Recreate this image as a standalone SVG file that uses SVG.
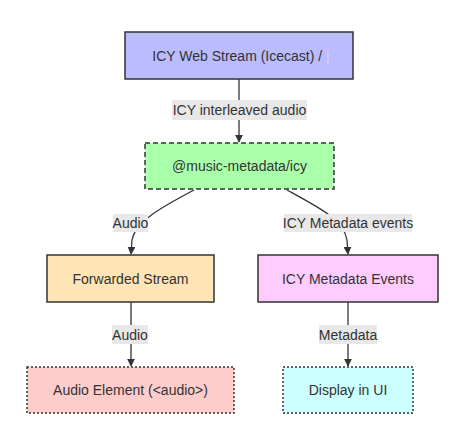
<svg xmlns="http://www.w3.org/2000/svg" width="474" height="441" viewBox="0 0 474 441">
<style>
.n{stroke:#333;stroke-width:1.5}
.t{font-family:"Liberation Sans",Arial,sans-serif;font-size:14px;fill:#333;text-anchor:middle;dominant-baseline:central}
.lb{fill:#e8e8e8}
.e{fill:none;stroke:#333;stroke-width:1.3}
</style>
<defs>
<marker id="ah" viewBox="0 0 10 10" refX="9" refY="5" markerWidth="8" markerHeight="8" markerUnits="userSpaceOnUse" orient="auto">
<path d="M0,0L10,5L0,10z" fill="#333"/>
</marker>
</defs>
<rect width="474" height="441" fill="#fff"/>
<g id="edges">
<path class="e" d="M239,79V142" marker-end="url(#ah)"/>
<path class="e" d="M194,190C160,208 135,222 132,240L131,254" marker-end="url(#ah)"/>
<path class="e" d="M287,190C320,208 344,220 347,240L348,254" marker-end="url(#ah)"/>
<path class="e" d="M131,302V366" marker-end="url(#ah)"/>
<path class="e" d="M348,302V366" marker-end="url(#ah)"/>
<rect class="lb" x="172" y="100" width="135" height="20"/>
<text class="t" x="239.5" y="110">ICY interleaved audio</text>
<rect class="lb" x="113" y="214" width="35" height="18"/>
<text class="t" x="130.5" y="223">Audio</text>
<rect class="lb" x="284" y="214" width="128" height="18"/>
<text class="t" x="348" y="223">ICY Metadata events</text>
<rect class="lb" x="112" y="325" width="36" height="19"/>
<text class="t" x="130" y="334.5">Audio</text>
<rect class="lb" x="319" y="325" width="58" height="19"/>
<text class="t" x="348" y="334.5">Metadata</text>
</g>
<g id="n1">
<rect class="n" x="125" y="32" width="228" height="47" fill="#bbbbff"/>
<text class="t" x="241" y="55.5">ICY Web Stream (Icecast) / <tspan fill="#d6d6f2">|</tspan></text>
</g>
<g id="n2">
<rect class="n" x="145" y="143" width="189" height="46" fill="#aaffaa" stroke-dasharray="5,3"/>
<text class="t" x="239.5" y="166">@music-metadata/icy</text>
</g>
<g id="n3">
<rect class="n" x="47" y="255" width="167" height="47" fill="#ffe4b5"/>
<text class="t" x="130.5" y="278.5">Forwarded Stream</text>
</g>
<g id="n4">
<rect class="n" x="258" y="255" width="180" height="47" fill="#ffccff"/>
<text class="t" x="348" y="278.5">ICY Metadata Events</text>
</g>
<g id="n5">
<rect class="n" x="27" y="367" width="207" height="46" fill="#ffcccc" stroke-dasharray="2,2"/>
<text class="t" x="130.5" y="390">Audio Element (&lt;audio&gt;)</text>
</g>
<g id="n6">
<rect class="n" x="283" y="367" width="130" height="46" fill="#ccffff" stroke-dasharray="2,2"/>
<text class="t" x="348" y="390">Display in UI</text>
</g>
</svg>
